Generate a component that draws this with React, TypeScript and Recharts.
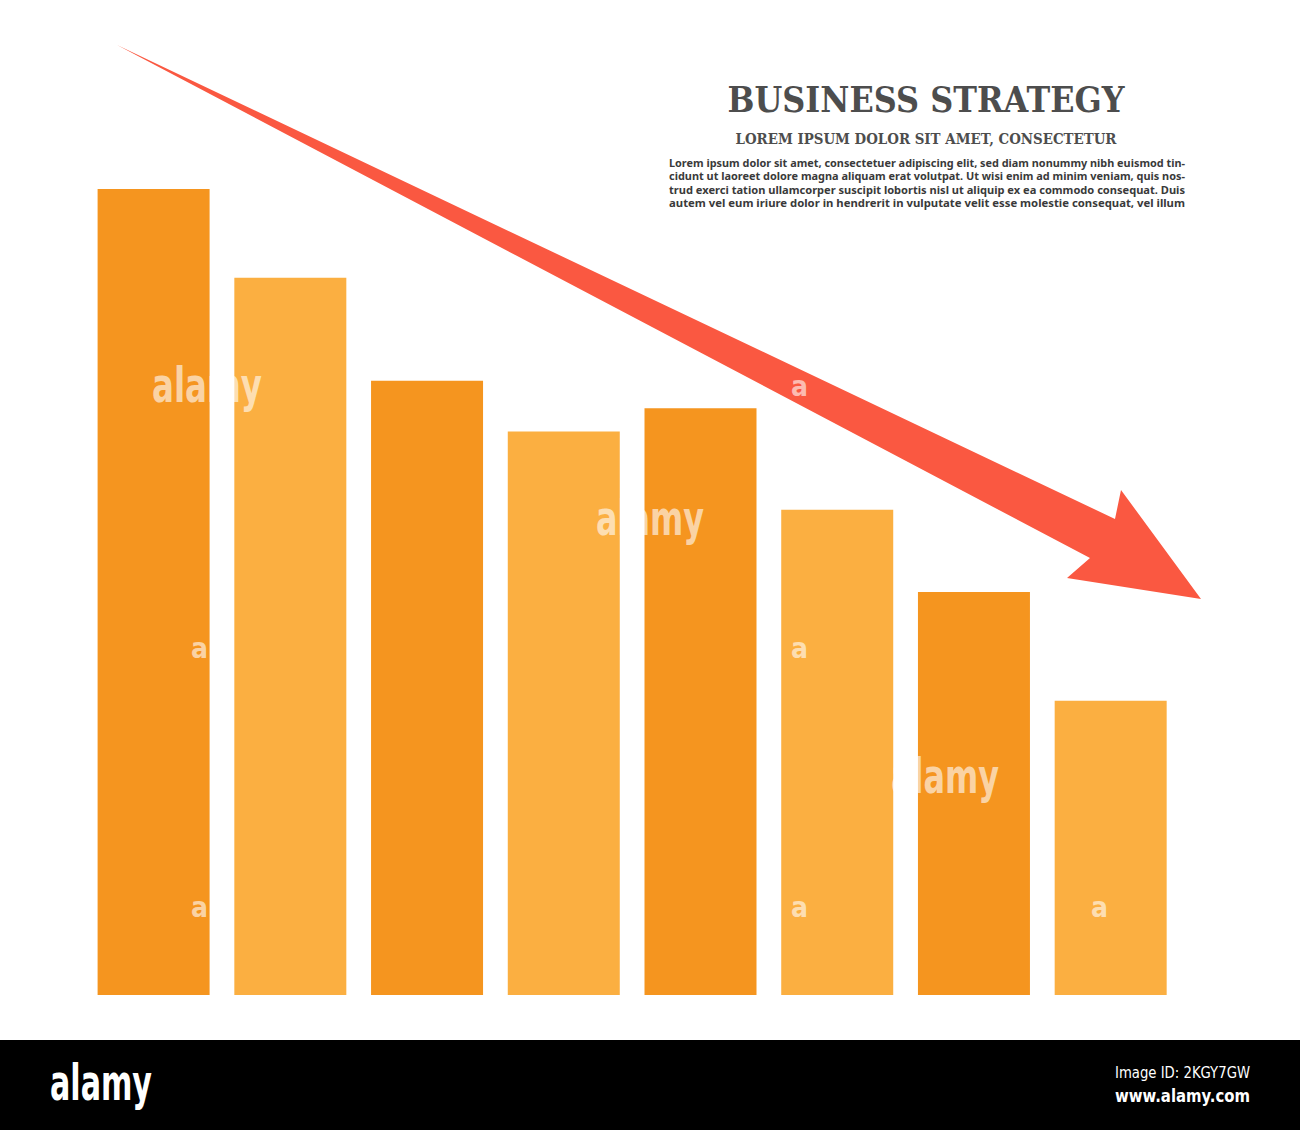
import { BarChart, Bar, XAxis, YAxis, Cell } from "recharts";

// bar values (first bar = 100)
const categories = ["1", "2", "3", "4", "5", "6", "7", "8"];
const values = [100, 89, 76.2, 69.9, 72.8, 60.2, 50, 36.5];
const barColors = ["#F5951F", "#FBAF41"];

const title = "BUSINESS STRATEGY";
const subtitle = "LOREM IPSUM DOLOR SIT AMET, CONSECTETUR";
const paragraph = [
  "Lorem ipsum dolor sit amet, consectetuer adipiscing elit, sed diam nonummy nibh euismod tin-",
  "cidunt ut laoreet dolore magna aliquam erat volutpat. Ut wisi enim ad minim veniam, quis nos-",
  "trud exerci tation ullamcorper suscipit lobortis nisl ut aliquip ex ea commodo consequat. Duis",
  "autem vel eum iriure dolor in hendrerit in vulputate velit esse molestie consequat, vel illum",
];

const data = categories.map((name, i) => ({ name, value: values[i] }));

const serif = "'DejaVu Serif', 'Liberation Serif', serif";
const sans = "'Noto Sans', 'Open Sans', sans-serif";
const narrow = "'Liberation Sans Narrow', 'DejaVu Sans Condensed', 'Liberation Sans', sans-serif";

export default function App() {
  return (
    <div style={{ position: "absolute", left: 0, top: 0, width: 1300, height: 1130, background: "#fff" }}>
      <div style={{ position: "absolute", left: 0, top: 0 }}>
        <BarChart
          width={1300}
          height={1130}
          data={data}
          margin={{ top: 189, right: 120.6, bottom: 135, left: 85.6 }}
        >
          <XAxis dataKey="name" hide />
          <YAxis hide domain={[0, 100]} />
          <Bar dataKey="value" barSize={112} isAnimationActive={false}>
            {data.map((d, i) => (
              <Cell key={d.name} fill={barColors[i % 2]} />
            ))}
          </Bar>
        </BarChart>
      </div>

      <svg
        width={1300}
        height={1130}
        style={{ position: "absolute", left: 0, top: 0, pointerEvents: "none" }}
      >
        {/* falling arrow */}
        <polygon
          points="117,45 1115,519 1121,490 1201,599 1067,578 1090,558"
          fill="#FA5841"
        />

        <text x={926} y={112} textAnchor="middle" fontFamily={serif} fontWeight="bold"
          fontSize={36} fill="#4D4D4D" textLength={397} lengthAdjust="spacingAndGlyphs">
          {title}
        </text>
        <text x={926} y={144} textAnchor="middle" fontFamily={serif} fontWeight="bold"
          fontSize={15} fill="#4D4D4D" textLength={381} lengthAdjust="spacingAndGlyphs">
          {subtitle}
        </text>
        {paragraph.map((line, i) => (
          <text key={i} x={669} y={167 + i * 13.3} fontFamily={sans} fontWeight="bold"
            fontSize={10.5} fill="#3A3A3A" textLength={516} lengthAdjust="spacingAndGlyphs">
            {line}
          </text>
        ))}

        {/* watermarks */}
        <g fill="#ffffff" fillOpacity={0.6} fontFamily={narrow} fontWeight="bold">
          <text x={152} y={402} fontSize={48} textLength={110} lengthAdjust="spacingAndGlyphs">alamy</text>
          <text x={596} y={535} fontSize={48} textLength={108} lengthAdjust="spacingAndGlyphs">alamy</text>
          <text x={891} y={793} fontSize={48} textLength={108} lengthAdjust="spacingAndGlyphs">alamy</text>
          <text x={191} y={658} fontSize={28}>a</text>
          <text x={791} y={658} fontSize={28}>a</text>
          <text x={791} y={396} fontSize={28}>a</text>
          <text x={191} y={917} fontSize={28}>a</text>
          <text x={791} y={917} fontSize={28}>a</text>
          <text x={1091} y={917} fontSize={28}>a</text>
        </g>

        {/* bottom band */}
        <rect x={0} y={1040} width={1300} height={90} fill="#000" />
        <text x={50} y={1100} fontFamily={narrow} fontWeight="bold" fontSize={50}
          fill="#fff" textLength={102} lengthAdjust="spacingAndGlyphs">alamy</text>
        <text x={1250} y={1078} textAnchor="end" fontFamily={narrow} fontSize={15}
          fill="#fff" textLength={135} lengthAdjust="spacingAndGlyphs">Image ID: 2KGY7GW</text>
        <text x={1250} y={1102} textAnchor="end" fontFamily={narrow} fontWeight="bold" fontSize={17}
          fill="#fff" textLength={135} lengthAdjust="spacingAndGlyphs">www.alamy.com</text>
      </svg>
    </div>
  );
}
